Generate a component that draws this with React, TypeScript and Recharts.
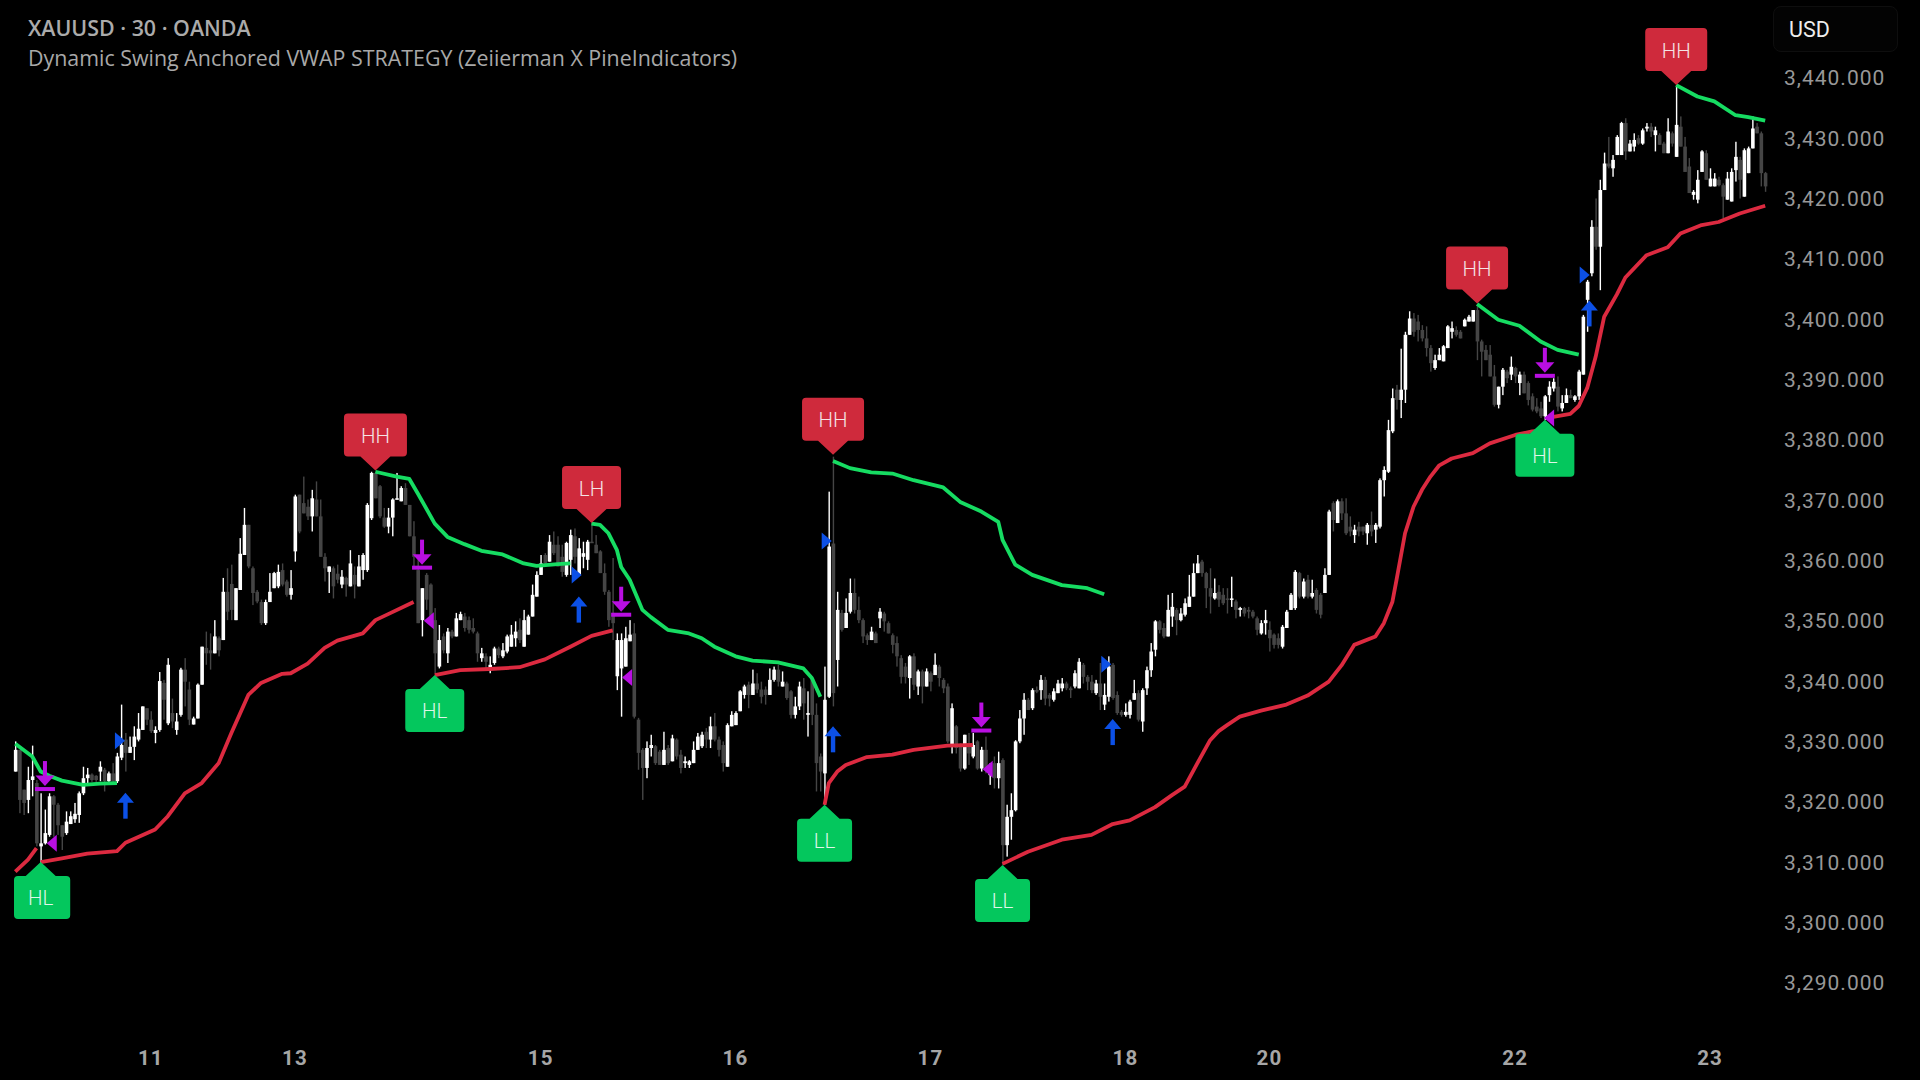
import React from "react";
import { ComposedChart, Bar, Line, XAxis, YAxis, ReferenceDot } from "recharts";

const PRICE_BASE = 3300;
const titleLine = "XAUUSD · 30 · OANDA";
const subtitleLine = "Dynamic Swing Anchored VWAP STRATEGY (Zeiierman X PineIndicators)";
const currency = "USD";
const priceTicks = [3290, 3300, 3310, 3320, 3330, 3340, 3350, 3360, 3370, 3380, 3390, 3400, 3410, 3420, 3430, 3440];
const dayTickBars = [32, 66, 124, 170, 216, 262, 296, 354, 400];
const dayTickLabels = ["11", "13", "15", "16", "17", "18", "20", "22", "23"];

// each row: open, high, low, close, as dollars above PRICE_BASE
const candlesApr10 = [
[24.9,29.9,24.9,28.5],[28.5,28.5,18,20.2],[21.9,21.9,17.7,19.7],[20.2,25.7,18,23.5],[23.5,29.2,20.8,24.1],[23,23.5,12.5,13],[12.5,21.3,9.7,13],[13,18.6,12.8,14.7],[14.4,21.3,14.1,20.8],[20.8,21,14.1,19.4],
[19.4,19.7,14.4,16],[16,16,11.9,14.1],[14.7,18.3,14.4,16.6],[16.2,18.3,16.2,17.5],[17,19.7,16.4,17.9],[17.7,21.6,16.4,21.3],[21.3,25.7,21,23.8],[23.8,25.5,23,24.4],[24.4,24.6,23.2,23.5],[24.2,24.3,23.2,23.5],
[24.9,26.6,23.3,25.7],[25.2,25.5,21.6,23.3],[23.3,24.9,23,24.6],[24.6,26.3,23,23.3],[23.3,28,23,27.4],[27.2,36,26.8,29.3],[30.2,31.3,24.9,28],[28,30.7,28,29],[29,32.4,26.8,30.7],[30.2,34.6,29.9,32],
[31.8,35.7,31.8,35.7],[35.4,35.4,32.6,33.5],[33.5,34.9,31.3,31.6],[31.3,32.4,29.6,31.8],[31.8,41.4,31.5,39.9],[39.6,40.1,33.5,36.8],[32.9,43.7,32.6,42.6],[34.6,37,32.1,33.2],[31.8,34.6,31,33.2],[34.3,42.1,34,41.8],
[41.8,43.7,35.7,39.8],[38.5,39.8,32.6,33.5],[32.7,34,32.7,33.7],[33.7,39.5,33.7,39.3],[39.3,45.6,39.3,45.6],[45.4,48.1,42.6,44.5],[45,47.8,41.8,44.5],[44.5,50,44.5,47.3],[47,47.3,44,45],[46.7,57,46.7,54.7],
[54.7,58.6,50,51.4],[56,59.2,50,51.7],[50,55.3,50,55.3],[55,63.6,55,61],[60.8,68.6,60.8,65.8],[65.8,65.8,58.6,58.9],[58.6,58.9,52.5,54.5],[54.7,55,52.8,53.1],[53,53.4,49.2,49.5],[49.5,53.4,49.2,53],
[53,57.8,53,54.7],[55.3,58,55.3,57.8],[55.6,59.2,55.3,58],[58.3,59.4,55.6,55.9],[56.4,56.7,53.9,54.2],[54.2,58.3,53.4,55.3],
];
const candlesApr13 = [
[61.4,70.8,59.7,70.5],[70.8,70.8,64.4,64.7],[69.4,73.8,67.7,67.7],[68.8,70,66.6,67.2],[67.2,71.6,64.7,70.2],[70,73,67.2,67.2],[67.2,70,60.5,60.5],[60.5,61.1,56.4,58.6],[58,58.9,54.5,58.9],[58.6,58.9,53.6,55.6],
[57.7,59.2,56.1,56.7],[55.9,58.3,55.3,57.2],[57,57.2,53.9,55.9],[55.6,61.6,55.6,59.4],[57.5,58.9,53.6,55.9],[55.6,60.8,55.6,58.9],[58.3,61.1,56.7,60.8],[58.3,69.4,58,69.1],[66.9,74.6,66.6,74.4],[74.4,74.6,70.2,70.2],
[72.2,72.4,66.9,67.2],[67,68.6,65.3,65.5],[65.5,68.6,64.4,67],[67,70.2,63.9,70],[70,74.4,70,70.2],[69.7,72.2,69.7,71.9],[71.9,72.7,69.1,69.1],[69.1,69.1,63.9,63.9],[63.9,66.4,58.9,60.5],[58.3,60,49.5,49.5],
[50,55.3,47.3,55.3],[57.5,57.8,51.7,53.4],[55.9,56.1,49.5,50],[50,52,41.2,44.5],[42.3,49.2,42,46.7],[47.3,47.8,44.5,45],[44.5,48.7,42.9,48.1],[48.1,48.4,47,47.3],[47.3,51.2,47.3,50.3],[50,51.4,50,51],
[50.6,51.2,48.1,48.7],[50,50.6,47.8,48.4],[48.7,50.3,47.8,48.1],[47.8,48.1,43.1,44.5],[43.7,45.4,43.1,44.5],[44,44.5,41.8,43.1],[41.8,44,41.2,42.6],[42.9,45.6,42.6,45.3],[45.3,45.6,43.7,44.2],[44,46.2,43.7,45],
[44.8,47.6,44.5,47.3],[45.6,49.2,45.6,47.6],[47,49.8,45.6,48.1],[48.4,50.3,46.2,46.7],[45.6,51.7,45.6,50],[47.6,50.9,47.6,50.6],[50.6,55.9,50.6,54.2],[53.9,58.1,53.9,57.5],
];
const candlesApr15 = [
[57.5,60.8,57.5,59.4],[60.8,61.1,58.9,59.4],[59.7,64.1,59.7,63],[62.5,64.7,60.8,61.1],[62.5,63.9,58.9,58.9],[60.5,62.5,57.2,58],[57.5,63,57.2,62.8],[60,65,57.5,64.1],[63.9,65.2,59.4,60.5],[57.5,63.6,57.5,61.9],
[60.5,63,58.6,61.1],[60,63.3,58.3,63],[63,66.1,62.8,62.8],[62.5,64.1,61.1,61.1],[61.4,61.6,57.8,57.8],[57.8,59.4,54.2,54.7],[54.7,55,48.9,50],[51.2,60.3,46.7,49.5],[40.7,47.8,38.4,46.7],[42,47.8,34,46.7],
[42.3,48.9,42.3,47],[46.5,50,46.5,47.6],[47.8,49.5,33.7,34],[33.5,33.8,25.2,28],[28.5,28.8,20.2,25.5],[25.5,29.9,23.8,28.8],[28.8,31,27.4,29.3],[29.1,29.3,26,26.3],[28.2,28.5,26,26],[26,31.5,26,28.5],
[28.8,29.3,26,26.3],[26.6,31,26.6,30.4],[30.2,30.4,26.9,27.4],[27.7,28.5,24.6,25.5],[26.3,27.4,25.5,26.6],[26,26.8,25.5,26.6],[26.3,29.9,26.3,28.5],[28.5,31.3,28.5,30.7],[29.1,31.5,28.8,31],[31.5,32.1,28.8,30.2],
[30.2,34,28.8,32.4],[32.4,34.6,29.9,30.2],[30.2,30.7,27.4,28.5],[29.3,29.9,24.9,26.3],[25.7,32.9,25.7,32.6],[32.4,34.9,32.4,34.3],
];
const candlesApr16 = [
[32.6,34.9,32.6,34.6],[34.9,38.4,34.9,38.2],[37.6,39.3,37,39],[39.3,39.8,35.4,37.6],[37.6,41.8,37.6,39.5],[39.5,41.2,37.9,38.5],[38.5,39.8,36.2,37.3],[38.5,39,36,37.6],[37.6,42,37.6,40.1],[40.1,42.3,39.8,41.8],
[41.8,42.6,39,39.8],[39,41.5,39,39.8],[39.5,39.8,36.8,37.1],[38.2,38.4,33.7,34.3],[34.3,37.3,33.7,35.7],[35.7,39.8,35.1,39],[38.7,40.4,33.5,36.2],[34.3,38.2,30.7,34.6],[40.4,40.6,32.6,34.3],[34.3,36.2,21.6,26.3],
[27.4,27.9,21.6,24.9],[24.6,42.3,19.4,36.8],[37.3,71.3,37.1,62.2],[62.7,77.1,35.7,37.9],[43.4,54.7,39,51.7],[51.2,51.7,48.1,48.4],[48.7,53.6,48.7,51.2],[51.4,56.9,51.1,54.5],[54.5,56.9,51.1,51.7],[51.7,53.9,49.5,50],
[50,50.3,46.2,47.3],[47.5,47.8,45.9,46.7],[46.7,48.9,46.7,48.1],[47.8,48.1,46.2,46.2],[50.3,52,48.7,51.4],[51.1,51.4,48.1,49.8],[49.5,49.8,47.8,47.8],[47.5,47.8,44.5,45.9],[46.2,47.3,42.3,44],[43.7,44.2,39.5,40.6],
[42.3,42.9,39.5,40.6],[40.4,44.2,37,44],[44,44.5,38.4,39.3],[39,41.8,37.6,41.5],[41.5,41.8,36.2,39],[39,42,39,41.5],
];
const candlesApr17 = [
[41.2,41.5,38.2,39.8],[40.9,44.5,40.9,42.6],[42.3,42.6,39,40.4],[40.1,40.4,37.9,38.7],[39,39.5,29.6,29.9],[29.3,36.2,27.9,35.4],[32.4,32.6,27.9,28.8],[29.3,29.6,24.9,25.4],[25.4,31,25.2,31],[29.6,31.3,26,27.9],
[27.4,31.3,27.1,29.3],[29.9,30.1,25.2,25.4],[25.4,29,24.9,28.5],[28.5,30.7,24.6,25.2],[24.3,26.3,22.7,26],[26.3,27.4,22.1,23.8],[23.8,28.2,22.1,26.3],[26.8,27.1,9.4,12.7],[12.7,19.4,10.8,17.4],[17.4,21.3,13.6,18.5],
[18.5,30.1,18.3,29.9],[29.9,35.1,29.6,33.7],[33.7,37.9,31,36.8],[36.8,37.1,35.1,35.1],[35.4,38.7,35.1,38.4],[38.4,39,37.9,38.2],[38.4,40.9,36.8,40.1],[40.1,40.6,35.9,37],[37.6,37.9,35.7,37],[36.8,38.7,36.5,38.2],
[37.9,40.1,37.9,39.5],[38.7,40.4,38.2,39.5],[39.5,39.8,38.4,38.7],[38.7,39,37.1,38.4],[39,41.7,38.7,41.2],[38.7,43.7,38.7,43.1],[42.6,42.9,39.5,40.6],[40.6,40.9,38.4,39.8],[39.8,40.9,37.9,38.4],[37.9,40.1,37.6,39.5],
[39.5,42.9,35.1,37.3],[36,39.5,35.1,37.6],[37.3,44,36.5,42.3],[42.6,42.9,36.8,37.1],[37.6,38.2,34.3,34.6],[34.8,35.1,34,34.3],
];
const candlesApr18 = [
[34.3,36.2,34,34.8],[34.3,36.8,33.7,36.5],[36.8,40.1,36.8,37.9],[37.9,38.4,33.2,33.5],[33.2,38.7,31.5,38.4],[38.7,42.3,37.6,41.7],[41.7,46.2,40.6,44.8],[45.1,50,44,49.8],[49.8,50,47.8,48.4],[48.7,49.5,47,47.3],
[47.3,54.2,47.3,51.7],[50.6,54.5,48.9,52.2],[51.7,52,47.5,50],[50,52,49.8,51.1],[50.9,53.6,50.6,52.8],[52.2,57.5,52.2,53.9],[53.9,59.4,53.9,57.8],[57.8,60.8,57.8,59.4],[59.7,60,57.2,57.8],[57.8,58,52,55.3],
[55.3,58.6,51.1,53.9],[53.6,56.9,53.4,54.5],[54.7,55.8,52.2,53.4],[54.2,55.3,52.5,52.8],[53.6,55.3,51.1,53.4],[53.4,57.2,52.2,53.6],[53.1,53.4,50.3,51.7],[51.7,52.2,50.6,52],[52,52.2,50.6,51.1],[51.7,52.2,50.3,51.4],
[51.4,51.7,50.3,50.6],[50.3,50.6,47.5,48.4],[47.8,50,47.6,49.5],[49.5,51.7,47.6,50],
];
const candlesApr20 = [
[48.4,49.8,44.8,47],[47.6,47.8,45.3,45.9],[47,47.8,45.3,45.9],[45.6,49.2,45.3,48.9],[48.7,51.7,48.7,51.4],[51.7,54.5,51.7,54.2],[52,58.3,51.7,58],[57.8,58,53.6,53.9],[53.9,56.9,53.6,56.4],[56.7,57.5,53.6,53.9],
[53.9,56.7,53.6,54.5],[55,55.3,51.1,51.7],[54.2,54.5,50.3,50.9],[54.5,58.6,54.5,57.5],[57.5,68.3,57.5,68],[69.4,69.7,64.7,66.6],[66.1,70,66.1,69.7],[69.7,70.2,66.6,67.7],[67.7,70.2,64.1,64.4],[65.5,67.2,63.9,64.7],
[64.1,65.8,62.8,65],[65.5,66.3,63.9,64.7],[65.5,65.5,64.1,64.7],[64.4,66.1,62.5,65.8],[65.8,68,63.9,64.7],[65,66.1,62.8,65.8],[65.5,73.5,65.2,73.2],[73.2,75.5,70.5,74.9],[74.6,83.2,74.4,81.5],[81.3,88.4,81,86.8],
[88.2,89,84.9,86.5],[86.5,95,83.5,88.2],[88.2,97.8,86,97.3],[97.3,101.2,97.3,100],[100,100.9,97,97.8],[99.5,100.6,96.2,98.1],[98.1,98.9,96.2,96.7],[96.7,98.7,93.7,95.1],[95.1,95.6,91.2,92.6],[91.8,94,91.5,93.1],
[93.1,95.1,93.1,94],[92.9,95.6,92.9,95.4],[95.1,98.9,95.1,98.7],[97.8,99.5,96.7,98.4],[98.1,98.7,97,97.3],[97.8,98.1,96.7,96.7],[98.7,100,98.7,99.8],[99.5,100.6,99.5,100.3],[99.5,101.4,99.5,101.4],[101.4,102,93.1,96.2],
];
const candlesApr22 = [
[96.2,96.5,90.4,94.5],[94.8,95.6,93.1,93.1],[94,95.6,90.4,90.4],[90.4,92.3,85.4,85.7],[85.7,88.7,85.1,88.7],[88.7,91.8,87.3,91.5],[91.2,91.5,89.3,90.1],[90.7,93.7,89.8,92],[91.8,92,89.3,90.4],[89.3,91.2,87.3,90.7],
[90.7,91.2,87.6,87.6],[89.3,89.6,85.6,86.5],[87.1,87.6,84.6,84.9],[85.4,86.8,84.3,84.6],[85.1,86.2,83.5,83.8],[83.8,87.3,83.2,87.1],[87.3,89.6,86.2,88.7],[88.4,90.1,87.9,89.5],[88.7,90.4,84.6,85.4],[85.1,87.3,84.6,86],
[86,88.4,86,87.3],[87.3,88.2,86.8,86.8],[86.5,87.3,86.2,87.1],[87.1,91.5,86.5,91.2],[90.7,100.6,90.7,100.3],[103.1,106.4,97.8,106.1],[107.5,116.3,107,115.2],[115.2,119.9,111.4,111.9],[111.9,123,104.7,121.3],[121.3,127.5,121.3,125.7],
[125.7,130.1,124.9,125.2],[124.9,127.1,123.5,126.3],[127.1,130.4,127.1,130.1],[127.1,132.6,127.1,132.4],[132.4,133.2,126.3,127.7],[127.7,129.6,127.7,129],[128.5,130.7,127.7,129.6],[129.9,130.4,128.8,129],[129,131.5,128.8,131.2],[131.5,132.4,131,131.8],
[131.8,132.4,130.1,131],[130.4,131.8,127.7,131.2],[130.4,130.7,128.8,128.8],[129,129.3,127.4,127.4],[127.4,133.2,127.4,131],[130.7,131,128.5,129],[126.8,138.7,126.8,132.1],[131.8,133.5,128.5,128.5],[128.5,130.1,124.3,124.3],[125.2,126.6,120.8,120.8],
[120.5,121.3,119.7,121],[119.7,124.6,119.1,123],[124.3,127.9,124.3,127.7],[127.4,127.9,123,123],[121.9,124.9,121.9,123.2],[121.9,124.1,121.9,123.2],[123,123.5,121.9,122.1],[122.1,122.4,116.6,120.2],[119.7,124.3,119.7,123.2],[119.4,124.9,119.4,124.3],
[124.6,129.3,122.7,126.8],[126.3,126.8,119.9,123],[120.2,128.2,120.2,127.9],[124.1,128.5,124.1,128.2],[128.2,133.5,128.2,131.5],[131.8,132.4,130.7,130.7],[130.7,131,121.9,124.1],[124.1,124.3,121,121.9],
];

// VWAP segments: bar number, dollars above PRICE_BASE
const redVwap = [
  [[0,8.3],[3,10.3],[5,12.2]],
  [[6,9.9],[11,10.5],[17,11.3],[24,11.7],[26,13.1],[33,15.3],[36,17.5],[40,21.3],[44,23],[48,26.3],[51,31.3],[55,37.6],[58,39.6],[63,41.1],[65,41.2],[69,42.8],[73,45.4],[76,46.6],[82,47.8],[85,50],[88,51],[94,53]],
  [[99,40.9],[105,41.7],[112,41.9],[119,42.2],[125,43.5],[131,45.6],[136,47.4],[141,48.3]],
  [[191,19.4],[192,23],[194,24.9],[196,26],[201,27.3],[207,27.7],[212,28.5],[220,29.2],[226,29.3]],
  [[233,9.6],[239,11.6],[247,13.6],[254,14.4],[259,16.2],[263,16.8],[269,19],[273,21],[276,22.4],[279,26.3],[282,30.1],[284,31.6],[286,32.6],[289,34],[294,35],[300,36],[305,37.5],[310,39.8],[313,42.5],[316,45.9],[321,47.3],[323,49.5],[325,53],[326,56.7],[328,64.4],[330,68.8],[332,71.6],[334,73.8],[336,75.6],[339,76.8],[344,77.7],[348,79.3],[354,80.7],[358,81.3],[361,81.5]],
  [[363,83.7],[367,84.2],[369,85.5],[371,88.5],[373,93.7],[375,100.3],[378,104],[380,106.8],[385,110.5],[390,111.8],[393,114.1],[398,115.5],[402,116],[407,117.4],[413,118.7]],
];
const greenVwap = [
  [[0,29.5],[4,27.4],[6,24.9],[8,24.2],[11,23.4],[16,22.7],[20,22.9],[24,23]],
  [[85,74.6],[90,73.8],[93,73.4],[95,71],[99,66],[102,63.8],[106,62.6],[110,61.5],[115,60.9],[120,59.4],[123,59],[128,59.3],[131,59.4]],
  [[136,66],[138,65.8],[140,64.4],[142,61.6],[143,58.8],[145,56.7],[147,53.4],[148,51.7],[150,50.5],[154,48.4],[159,47.8],[162,47],[165,45.6],[170,44],[174,43.3],[180,43],[186,42],[188,40.4],[190,37.3]],
  [[193,76.4],[197,75.2],[202,74.5],[207,74.3],[212,73.2],[219,72],[223,69.6],[228,68],[232,66.3],[233,63.3],[236,59.2],[240,57.5],[247,55.8],[253,55.3],[257,54.3]],
  [[345,102.4],[350,99.8],[355,98.8],[360,96.2],[364,94.8],[369,94]],
  [[392,138.7],[397,136.8],[401,136],[406,133.7],[409,133.4],[413,132.8]],
];

// swing labels: bar, tip price, text, width
const swingHighs = [[85,74.8,"HH",63],[136,66.1,"LH",59],[193,77.4,"HH",62],[345,102.5,"HH",62],[392,138.7,"HH",62]];
const swingLows = [[6,9.9,"HL",59],[99,40.9,"HL",59],[191,19.4,"LL",55],[233,9.4,"LL",55],[361,83.2,"HL",59]];
const exitLongMarks = [[7,22],[96,58.7],[143,50.9],[228,31.7],[361,90.5]];
const purpleTriangles = [[8.6,13],[97.6,49.9],[144.4,40.5],[229.5,25.3],[362,83.5]];
const blueTriangles = [[24.7,30],[132.5,57.5],[191.5,63.1],[257.5,42.7],[370.4,107.2]];
const blueArrows = [[26,21.4],[133,53.9],[193,32.4],[259,33.6],[371.5,103]];

const allCandles = [...candlesApr10, ...candlesApr13, ...candlesApr15, ...candlesApr16, ...candlesApr17, ...candlesApr18, ...candlesApr20, ...candlesApr22];
const rows = allCandles.map(([o, h, l, c], i) => ({
  bar: i,
  range: [PRICE_BASE + l, PRICE_BASE + h],
  open: PRICE_BASE + o,
  close: PRICE_BASE + c,
}));
const toSeries = (seg: number[][]) => seg.map(([bar, v]) => ({ bar, price: PRICE_BASE + v }));

const WHITE = "#ffffff";
const DARK = "#454545";
const RED = "#dc2a40";
const GREEN = "#16dc62";
const LABEL_RED = "#cf2a3c";
const LABEL_GREEN = "#04c75d";
const PURPLE = "#b90fe2";
const BLUE = "#0c50e6";
const UI_FONT = "Roboto, sans-serif";

const Candle = (p: any) => {
  const { x, y, width, height, payload } = p;
  const [lo, hi] = payload.range;
  const unit = height / (hi - lo);
  const yOf = (v: number) => y + (hi - v) * unit;
  const cx = x + width / 2;
  const up = payload.close >= payload.open;
  const fill = up ? WHITE : DARK;
  const top = yOf(Math.max(payload.open, payload.close));
  const bottom = yOf(Math.min(payload.open, payload.close));
  return (
    <g>
      <rect x={cx - 0.7} y={y} width={1.4} height={Math.max(height, 1)} fill={fill} />
      <rect x={cx - 1.8} y={top} width={3.6} height={Math.max(bottom - top, 1.5)} fill={fill} />
    </g>
  );
};

const HighLabel = ({ cx, cy, text, w }: any) => {
  const left = cx - w / 2;
  const d = `M${cx} ${cy} L${cx - 15} ${cy - 14} H${left + 4} Q${left} ${cy - 14} ${left} ${cy - 18} V${cy - 53} Q${left} ${cy - 57} ${left + 4} ${cy - 57} H${left + w - 4} Q${left + w} ${cy - 57} ${left + w} ${cy - 53} V${cy - 18} Q${left + w} ${cy - 14} ${left + w - 4} ${cy - 14} H${cx + 15} Z`;
  return (
    <g>
      <path d={d} fill={LABEL_RED} />
      <text x={cx} y={cy - 34.5} fill="#f4e4e6" fontFamily={UI_FONT} fontSize={20.5} fontWeight={300} textAnchor="middle" dominantBaseline="central">{text}</text>
    </g>
  );
};

const LowLabel = ({ cx, cy, text, w }: any) => {
  const left = Math.max(cx - w / 2, 14);
  const right = cx + w / 2;
  const d = `M${cx} ${cy} L${cx + 15} ${cy + 14} H${right - 4} Q${right} ${cy + 14} ${right} ${cy + 18} V${cy + 53} Q${right} ${cy + 57} ${right - 4} ${cy + 57} H${left + 4} Q${left} ${cy + 57} ${left} ${cy + 53} V${cy + 18} Q${left} ${cy + 14} ${left + 4} ${cy + 14} H${cx - 15} Z`;
  return (
    <g>
      <path d={d} fill={LABEL_GREEN} />
      <text x={cx} y={cy + 36} fill="#dff6e8" fontFamily={UI_FONT} fontSize={20.5} fontWeight={300} textAnchor="middle" dominantBaseline="central">{text}</text>
    </g>
  );
};

const ExitMark = ({ cx, cy }: any) => (
  <g fill={PURPLE}>
    <rect x={cx - 10} y={cy - 2} width={20} height={4} />
    <rect x={cx - 2} y={cy - 28} width={4} height={18} />
    <path d={`M${cx - 9.5} ${cy - 13.5} H${cx + 9.5} L${cx} ${cy - 3} Z`} />
  </g>
);
const LeftTriangle = ({ cx, cy }: any) => (
  <path d={`M${cx - 5} ${cy} L${cx + 5} ${cy - 8.5} V${cy + 8.5} Z`} fill={PURPLE} />
);
const RightTriangle = ({ cx, cy }: any) => (
  <path d={`M${cx + 5} ${cy} L${cx - 5} ${cy - 8.5} V${cy + 8.5} Z`} fill={BLUE} />
);
const UpArrow = ({ cx, cy }: any) => (
  <g fill={BLUE}>
    <path d={`M${cx} ${cy} L${cx + 8.5} ${cy + 10} H${cx - 8.5} Z`} />
    <rect x={cx - 2.2} y={cy + 9} width={4.4} height={17} />
  </g>
);

const dot = (key: string, bar: number, value: number, shape: any) => (
  <ReferenceDot key={key} x={bar} y={PRICE_BASE + value} ifOverflow="visible" shape={shape} isFront />
);

export default function App() {
  return (
    <div style={{ position: "absolute", left: 0, top: 0, width: 1920, height: 1080, background: "#000", overflow: "hidden" }}>
      <ComposedChart width={1920} height={1080} data={rows} margin={{ top: 0, right: 0, bottom: 0, left: 0 }}>
        <XAxis
          dataKey="bar"
          type="number"
          domain={[-3.61, 415.55]}
          allowDataOverflow
          ticks={dayTickBars}
          tickFormatter={(v: number) => dayTickLabels[dayTickBars.indexOf(v)]}
          height={50}
          axisLine={false}
          tickLine={false}
          tick={{ fill: "#a6a6a6", fontFamily: UI_FONT, fontSize: 20.5, fontWeight: 700, letterSpacing: 1.2, dy: 5 }}
          tickMargin={9}
        />
        <YAxis
          orientation="right"
          type="number"
          domain={[3282.06, 3452.8]}
          allowDataOverflow
          ticks={priceTicks}
          interval={0}
          tickFormatter={(v: number) => v.toLocaleString("en-US", { minimumFractionDigits: 3 })}
          width={144}
          axisLine={false}
          tickLine={false}
          tick={{ fill: "#989898", fontFamily: UI_FONT, fontSize: 21, letterSpacing: 1, dy: 0.6 }}
        />
        <Bar dataKey="range" barSize={3} shape={<Candle />} isAnimationActive={false} />
        {redVwap.map((seg, n) => (
          <Line key={`r${n}`} data={toSeries(seg)} dataKey="price" type="linear" stroke={RED} strokeWidth={3.8} strokeLinejoin="round" dot={false} activeDot={false} isAnimationActive={false} />
        ))}
        {greenVwap.map((seg, n) => (
          <Line key={`g${n}`} data={toSeries(seg)} dataKey="price" type="linear" stroke={GREEN} strokeWidth={3.8} strokeLinejoin="round" dot={false} activeDot={false} isAnimationActive={false} />
        ))}
        {exitLongMarks.map(([b, v], n) => dot(`x${n}`, b, v, (p: any) => <ExitMark cx={p.cx} cy={p.cy} />))}
        {purpleTriangles.map(([b, v], n) => dot(`p${n}`, b, v, (p: any) => <LeftTriangle cx={p.cx} cy={p.cy} />))}
        {blueTriangles.map(([b, v], n) => dot(`b${n}`, b, v, (p: any) => <RightTriangle cx={p.cx} cy={p.cy} />))}
        {blueArrows.map(([b, v], n) => dot(`u${n}`, b, v, (p: any) => <UpArrow cx={p.cx} cy={p.cy} />))}
        {swingHighs.map(([b, v, t, w]: any, n) => dot(`h${n}`, b, v, (p: any) => <HighLabel cx={p.cx} cy={p.cy} text={t} w={w} />))}
        {swingLows.map(([b, v, t, w]: any, n) => dot(`l${n}`, b, v, (p: any) => <LowLabel cx={p.cx} cy={p.cy} text={t} w={w} />))}
      </ComposedChart>
      <div style={{ position: "absolute", left: 28, top: 15, fontFamily: "'Open Sans', sans-serif", fontSize: 21.4, fontWeight: 600, color: "#ababab", lineHeight: "26px", whiteSpace: "nowrap" }}>{titleLine}</div>
      <div style={{ position: "absolute", left: 28, top: 45, fontFamily: "'Open Sans', sans-serif", fontSize: 21.4, color: "#a8a8a8", lineHeight: "26px", whiteSpace: "nowrap" }}>{subtitleLine}</div>
      <div style={{ position: "absolute", left: 1773, top: 6, width: 125, height: 46, borderRadius: 8, border: "1px solid #0e0e0e", boxSizing: "border-box", background: "#030303", paddingLeft: 15, fontFamily: UI_FONT, fontSize: 21.5, lineHeight: "46px", color: "#ededed" }}>{currency}</div>
    </div>
  );
}
